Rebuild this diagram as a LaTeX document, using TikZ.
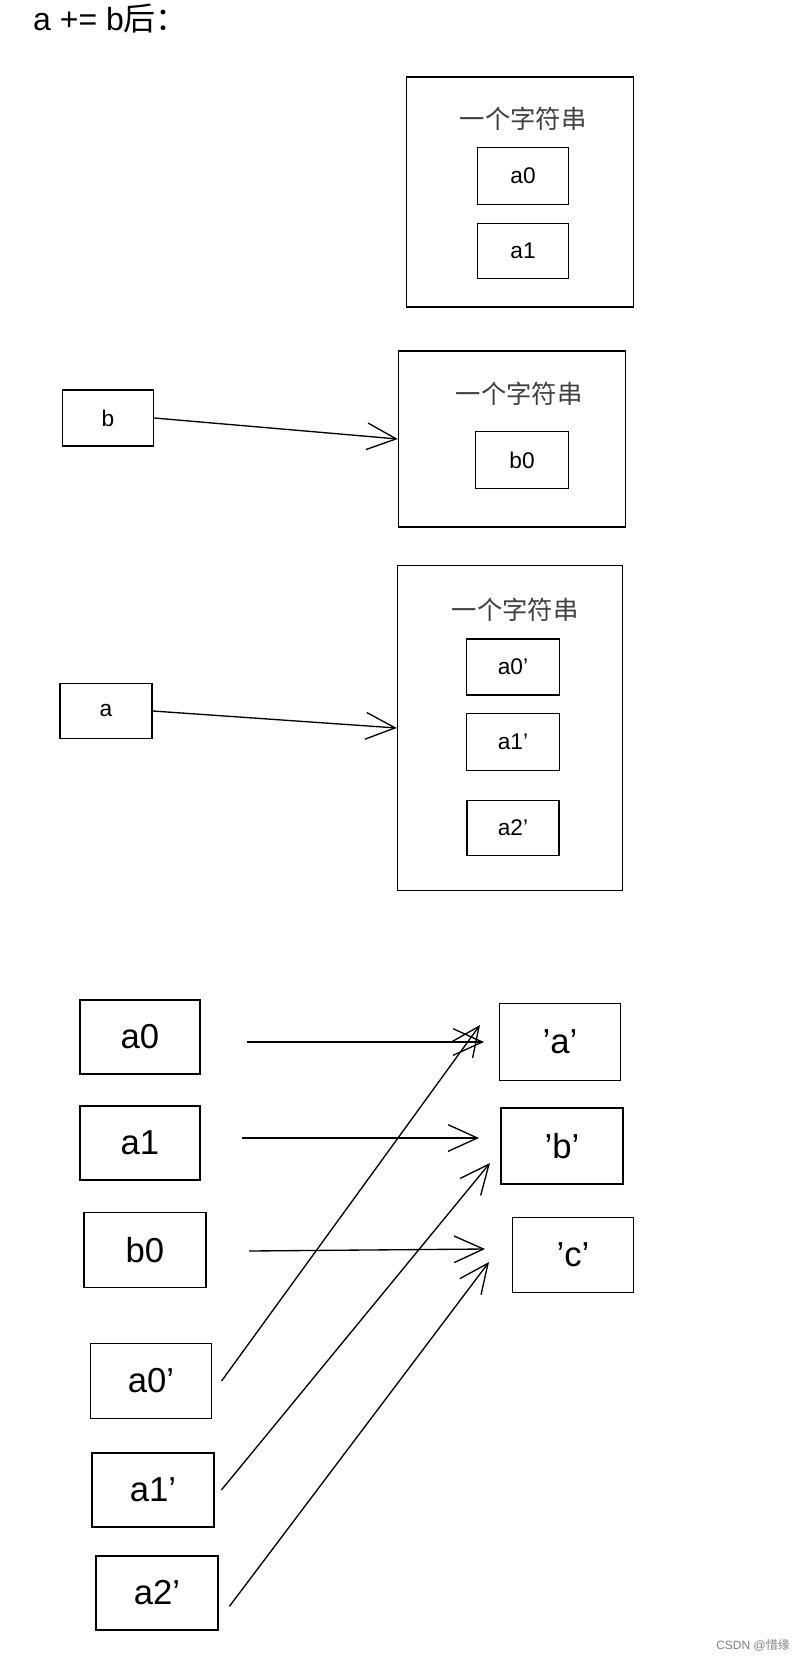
\documentclass[tikz,border=0pt]{standalone}
\usepackage{fontspec}
\setmainfont{Liberation Sans}
\newfontfamily\cjk{Noto Sans CJK SC}
\usetikzlibrary{arrows.meta}
\begin{document}
\begin{tikzpicture}[x=0.75pt,y=-0.75pt,line width=1.1pt,
  box/.style args={#1x#2}{draw,minimum width=#1*0.75pt,minimum height=#2*0.75pt,inner sep=0pt},
  sm/.style={font=\fontsize{17}{20}\selectfont},
  big/.style={font=\fontsize{26}{30}\selectfont},
  ttl/.style={font=\cjk\fontsize{19}{22}\selectfont,text=black!75},
  arr/.style={-{Straight Barb[length=22pt,width=20pt,line width=1pt]},line width=1pt}]
\useasboundingbox (0,0) rectangle (810,1662);
\node[anchor=west,font=\fontsize{24}{28}\selectfont] (t) at (28,19) {a += b{\cjk 后：}};
% strings
\node[box=227x230] (s1) at (520,192) {};
\node[ttl] (s1t) at (523,119) {一个字符串};
\node[box=91x57,sm] (sa0) at (523,176) {a0};
\node[box=91x55,sm] (sa1) at (523,251) {a1};
\node[box=227x176] (s2) at (512,439) {};
\node[ttl] (s2t) at (519,394) {一个字符串};
\node[box=93x57,sm] (sb0) at (522,460) {b0};
\node[box=225x325] (s3) at (510,728) {};
\node[ttl] (s3t) at (515,610) {一个字符串};
\node[box=93x56,sm] (sc0) at (513,667) {a0'};
\node[box=93x57,sm] (sc1) at (513,742) {a1'};
\node[box=92x55,sm] (sc2) at (513,828) {a2'};
\node[box=91x56,sm] (b) at (108,418) {b};
\node[box=92x55,sm] (a) at (106,711) {a};
\draw[arr] (b.east) -- (s2.west);
\draw[arr] (a.east) -- (s3.west);
% chars
\node[box=120x74,big] (x0) at (140,1037) {a0};
\node[box=120x74,big] (x1) at (140,1143) {a1};
\node[box=122x75,big] (x2) at (145,1250) {b0};
\node[box=121x75,big] (y0) at (151,1381) {a0'};
\node[box=122x74,big] (y1) at (153,1490) {a1'};
\node[box=122x74,big] (y2) at (157,1593) {a2'};
\node[box=121x77,big] (ca) at (560,1042) {'a'};
\node[box=122x76,big] (cb) at (562,1146) {'b'};
\node[box=121x75,big] (cc) at (573,1255) {'c'};
\coordinate (p0) at (247,1042); \coordinate (q0) at (484,1042);
\coordinate (p1) at (242,1138); \coordinate (q1) at (479,1138);
\coordinate (p2) at (249,1251); \coordinate (q2) at (485,1249);
\coordinate (r0) at (480,1025); \coordinate (r1) at (490,1163); \coordinate (r2) at (489,1262);
\draw[arr] (p0) -- (q0);
\draw[arr] (p1) -- (q1);
\draw[arr] (p2) -- (q2);
\draw[arr] ([xshift=7pt]y0.east) -- (r0);
\draw[arr] ([xshift=5pt]y1.east) -- (r1);
\draw[arr] ([xshift=8pt,yshift=-10pt]y2.east) -- (r2);
\node[anchor=east,font=\fontsize{9}{11}\selectfont,text=black!50] (wm) at (795,1645) {CSDN @{\cjk 惜缘}};
\end{tikzpicture}
\end{document}
